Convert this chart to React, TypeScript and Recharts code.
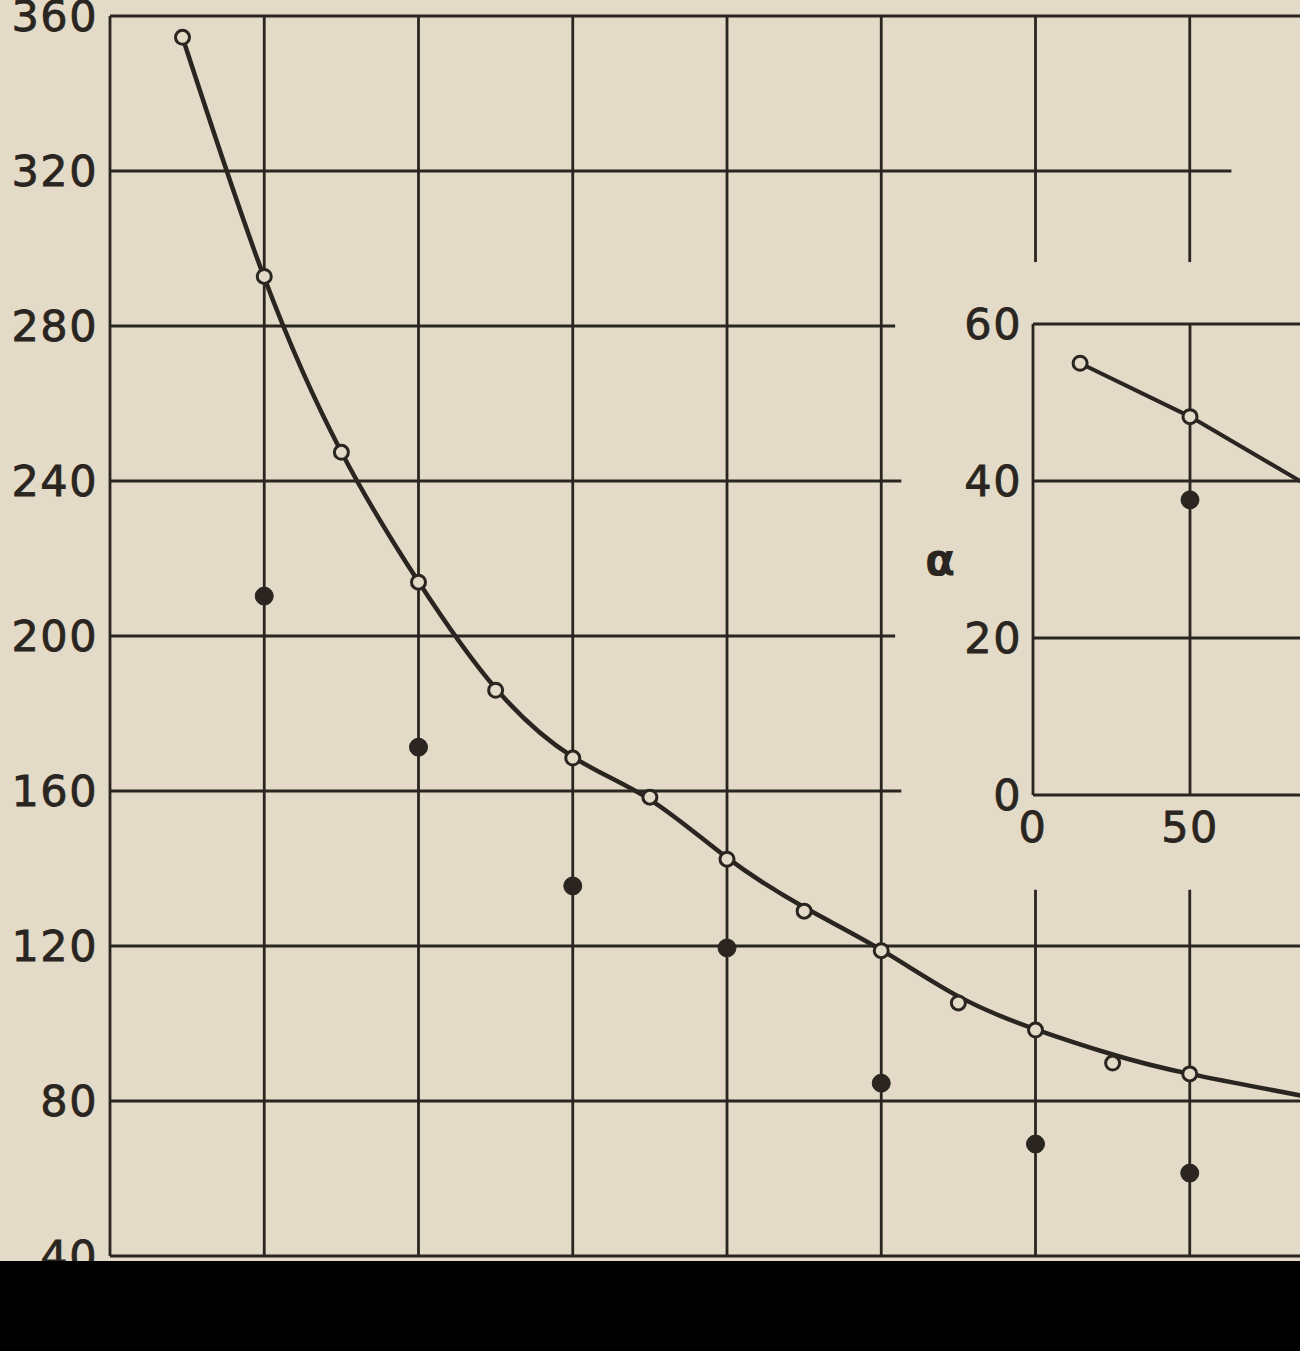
import React from 'react';
import { ComposedChart, Line, XAxis, YAxis, ReferenceLine } from 'recharts';

// ---------- main chart data ----------
const openX = [0.47, 1, 1.5, 2, 2.5, 3, 3.5, 4, 4.5, 5, 5.5, 6, 6.5, 7];
const openY = [354.5, 292.8, 247.4, 213.9, 186.0, 168.5, 158.4, 142.4, 129.0, 118.8, 105.3, 98.3, 89.8, 87.0];
const filledX = [1, 2, 3, 4, 5, 6, 7];
const filledY = [210.3, 171.3, 135.5, 119.5, 84.6, 68.9, 61.4];
const curveX = [0.47, 1, 1.5, 2, 2.5, 3, 3.5, 4, 4.5, 5, 5.5, 6, 6.5, 7, 8];
const curveY = [354.5, 292.5, 247.5, 214, 186.5, 168.8, 157.8, 142.8, 130, 119, 107, 98.5, 92, 87, 79.3];
const yTicks = [40, 80, 120, 160, 200, 240, 280, 320, 360];
const fullVertical = [1, 2, 3, 4, 5];
const brokenVertical = [6, 7];

// ---------- inset data ----------
const insetOpenX = [15, 50];
const insetOpenY = [55.0, 48.2];
const insetLineX = [15, 50, 100];
const insetLineY = [55.0, 48.2, 36.5];
const insetFilledX = [50];
const insetFilledY = [37.6];
const insetYTicks = [0, 20, 40, 60];
const insetXTicks = [0, 50];

const BG = '#e3dbc7';
const INK = '#2a2520';
const GW = 2.8;
const FONT = 'DejaVu Sans';

const zip = (xs: number[], ys: number[]) => xs.map((x, i) => ({ x, y: ys[i] }));

const openData = zip(openX, openY);
const filledData = zip(filledX, filledY);
const curveData = zip(curveX, curveY);
const insetOpen = zip(insetOpenX, insetOpenY);
const insetLine = zip(insetLineX, insetLineY);
const insetFilled = zip(insetFilledX, insetFilledY);

const tickStyle = { fontSize: 43, fill: INK, stroke: INK, strokeWidth: 0.8, fontFamily: FONT, letterSpacing: 1.5 };

export default function App() {
  return (
    <div style={{ position: 'absolute', left: 0, top: 0, width: 1300, height: 1351, overflow: 'hidden', background: BG }}>
      <div style={{ position: 'absolute', left: 0, top: 0 }}>
        <ComposedChart width={1350} height={1351} margin={{ top: 16, right: 6, bottom: 95, left: 0 }}>
          <XAxis type="number" dataKey="x" domain={[0, 8]} hide height={0} allowDataOverflow />
          <YAxis
            type="number"
            dataKey="y"
            domain={[40, 360]}
            ticks={yTicks}
            width={110}
            tickSize={0}
            tickMargin={12}
            tick={tickStyle}
            axisLine={{ stroke: INK, strokeWidth: GW }}
            tickLine={false}
            interval={0}
            allowDataOverflow
          />
          {/* horizontal grid */}
          <ReferenceLine segment={[{ x: 0, y: 360 }, { x: 8, y: 360 }]} stroke={INK} strokeWidth={GW} />
          <ReferenceLine segment={[{ x: 0, y: 320 }, { x: 7.27, y: 320 }]} stroke={INK} strokeWidth={GW} />
          <ReferenceLine segment={[{ x: 0, y: 280 }, { x: 5.09, y: 280 }]} stroke={INK} strokeWidth={GW} />
          <ReferenceLine segment={[{ x: 0, y: 240 }, { x: 5.13, y: 240 }]} stroke={INK} strokeWidth={GW} />
          <ReferenceLine segment={[{ x: 0, y: 200 }, { x: 5.09, y: 200 }]} stroke={INK} strokeWidth={GW} />
          <ReferenceLine segment={[{ x: 0, y: 160 }, { x: 5.13, y: 160 }]} stroke={INK} strokeWidth={GW} />
          <ReferenceLine segment={[{ x: 0, y: 120 }, { x: 8, y: 120 }]} stroke={INK} strokeWidth={GW} />
          <ReferenceLine segment={[{ x: 0, y: 80 }, { x: 8, y: 80 }]} stroke={INK} strokeWidth={GW} />
          <ReferenceLine segment={[{ x: 0, y: 40 }, { x: 8, y: 40 }]} stroke={INK} strokeWidth={GW} />
          {/* vertical grid */}
          {fullVertical.map((v) => (
            <ReferenceLine key={'v' + v} segment={[{ x: v, y: 40 }, { x: v, y: 360 }]} stroke={INK} strokeWidth={GW} />
          ))}
          {brokenVertical.map((v) => (
            <ReferenceLine key={'vt' + v} segment={[{ x: v, y: 296.5 }, { x: v, y: 360 }]} stroke={INK} strokeWidth={GW} />
          ))}
          {brokenVertical.map((v) => (
            <ReferenceLine key={'vb' + v} segment={[{ x: v, y: 40 }, { x: v, y: 134.5 }]} stroke={INK} strokeWidth={GW} />
          ))}
          <Line data={curveData} dataKey="y" type="natural" stroke={INK} strokeWidth={4.5} dot={false} isAnimationActive={false} />
          <Line
            data={openData}
            dataKey="y"
            stroke="none"
            dot={{ r: 7, fill: BG, stroke: INK, strokeWidth: 3 }}
            isAnimationActive={false}
          />
          <Line
            data={filledData}
            dataKey="y"
            stroke="none"
            dot={{ r: 9, fill: INK, stroke: INK, strokeWidth: 1 }}
            isAnimationActive={false}
          />
        </ComposedChart>
      </div>

      {/* inset chart */}
      <div style={{ position: 'absolute', left: 900, top: 290 }}>
        <ComposedChart width={460} height={600} margin={{ top: 34, right: 13, bottom: 35, left: 0 }}>
          <XAxis
            type="number"
            dataKey="x"
            domain={[0, 100]}
            ticks={insetXTicks}
            height={60}
            tickSize={0}
            tickMargin={16}
            tick={tickStyle}
            axisLine={{ stroke: INK, strokeWidth: GW }}
            tickLine={false}
            interval={0}
            allowDataOverflow
          />
          <YAxis
            type="number"
            dataKey="y"
            domain={[0, 60]}
            ticks={insetYTicks}
            width={133}
            tickSize={0}
            tickMargin={11}
            tick={tickStyle}
            axisLine={{ stroke: INK, strokeWidth: GW }}
            tickLine={false}
            interval={0}
            allowDataOverflow
          />
          <ReferenceLine segment={[{ x: 0, y: 60 }, { x: 100, y: 60 }]} stroke={INK} strokeWidth={GW} />
          <ReferenceLine segment={[{ x: 0, y: 40 }, { x: 100, y: 40 }]} stroke={INK} strokeWidth={GW} />
          <ReferenceLine segment={[{ x: 0, y: 20 }, { x: 100, y: 20 }]} stroke={INK} strokeWidth={GW} />
          <ReferenceLine segment={[{ x: 50, y: 0 }, { x: 50, y: 60 }]} stroke={INK} strokeWidth={GW} />
          <Line data={insetLine} dataKey="y" type="linear" stroke={INK} strokeWidth={4} dot={false} isAnimationActive={false} />
          <Line
            data={insetOpen}
            dataKey="y"
            stroke="none"
            dot={{ r: 7, fill: BG, stroke: INK, strokeWidth: 3 }}
            isAnimationActive={false}
          />
          <Line
            data={insetFilled}
            dataKey="y"
            stroke="none"
            dot={{ r: 9, fill: INK, stroke: INK, strokeWidth: 1 }}
            isAnimationActive={false}
          />
        </ComposedChart>
      </div>

      {/* inset axis label */}
      <div
        style={{
          position: 'absolute',
          left: 918,
          top: 530,
          width: 44,
          textAlign: 'center',
          fontFamily: FONT,
          fontSize: 44,
          fontWeight: 'bold',
          lineHeight: '60px',
          color: INK,
        }}
      >
        α
      </div>

      {/* dark bottom band of the scanned plate */}
      <div style={{ position: 'absolute', left: 0, top: 1261, width: 1300, height: 90, background: '#000' }} />
    </div>
  );
}
